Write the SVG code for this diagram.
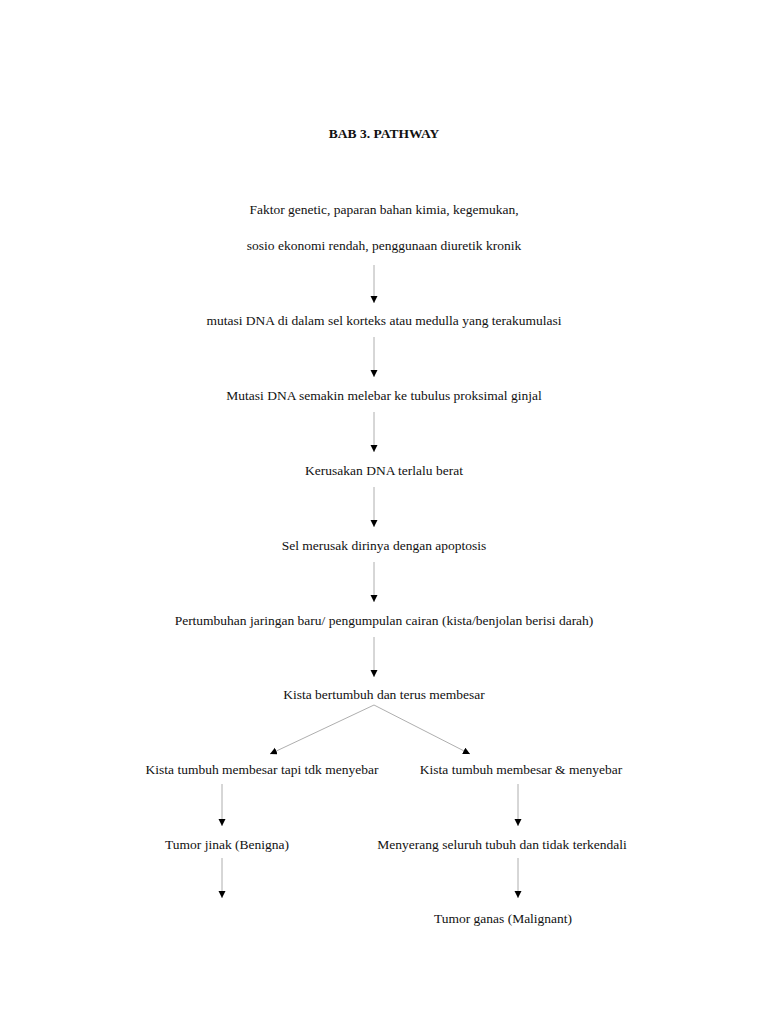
<svg xmlns="http://www.w3.org/2000/svg" width="768" height="1024" viewBox="0 0 768 1024">
<style>
text{font-family:"Liberation Serif","Times New Roman",serif;font-size:13.5px;fill:#111;text-anchor:middle}
.t{font-weight:bold}
.c line{stroke:#999;stroke-width:0.8}
</style>
<defs><marker id="a" markerWidth="8" markerHeight="8" refX="7" refY="3.5" orient="auto" markerUnits="userSpaceOnUse"><path d="M0,0 L7,3.5 L0,7z" fill="#000"/></marker></defs>
<rect width="768" height="1024" fill="#fff"/>
<text class="t" x="384" y="138">BAB 3. PATHWAY</text>
<g id="n1"><text x="384" y="214">Faktor genetic, paparan bahan kimia, kegemukan,</text><text x="384" y="250">sosio ekonomi rendah, penggunaan diuretik kronik</text></g>
<g id="n2"><text x="384" y="325">mutasi DNA di dalam sel korteks atau medulla yang terakumulasi</text></g>
<g id="n3"><text x="384" y="400">Mutasi DNA semakin melebar ke tubulus proksimal ginjal</text></g>
<g id="n4"><text x="384" y="475">Kerusakan DNA terlalu berat</text></g>
<g id="n5"><text x="384" y="550">Sel merusak dirinya dengan apoptosis</text></g>
<g id="n6"><text x="384" y="625">Pertumbuhan jaringan baru/ pengumpulan cairan (kista/benjolan berisi darah)</text></g>
<g id="n7"><text x="384" y="699">Kista bertumbuh dan terus membesar</text></g>
<g id="n8"><text x="262" y="774">Kista tumbuh membesar tapi tdk menyebar</text></g>
<g id="n9"><text x="521" y="774">Kista tumbuh membesar &amp; menyebar</text></g>
<g id="n10"><text x="227" y="849">Tumor jinak (Benigna)</text></g>
<g id="n11"><text x="502" y="849">Menyerang seluruh tubuh dan tidak terkendali</text></g>
<g id="n12"><text x="503" y="923">Tumor ganas (Malignant)</text></g>
<g class="c" marker-end="url(#a)">
<line x1="374" y1="265" x2="374" y2="303" marker-end="url(#a)"/>
<line x1="374" y1="337" x2="374" y2="377" marker-end="url(#a)"/>
<line x1="374" y1="412" x2="374" y2="452" marker-end="url(#a)"/>
<line x1="374" y1="487" x2="374" y2="527" marker-end="url(#a)"/>
<line x1="374" y1="562" x2="374" y2="602" marker-end="url(#a)"/>
<line x1="374" y1="637" x2="374" y2="677" marker-end="url(#a)"/>
<line x1="374" y1="705" x2="270" y2="754" marker-end="url(#a)"/>
<line x1="374" y1="705" x2="470" y2="754" marker-end="url(#a)"/>
<line x1="222" y1="784" x2="222" y2="826" marker-end="url(#a)"/>
<line x1="518" y1="784" x2="518" y2="826" marker-end="url(#a)"/>
<line x1="222" y1="858" x2="222" y2="898" marker-end="url(#a)"/>
<line x1="518" y1="858" x2="518" y2="898" marker-end="url(#a)"/>
</g>
</svg>
